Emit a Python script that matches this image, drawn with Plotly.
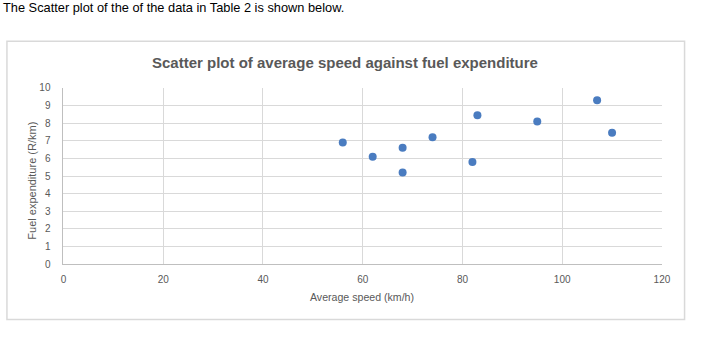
import plotly.graph_objects as go

# Data
average_speed = [56, 62, 68, 68, 74, 82, 83, 95, 107, 110]
fuel_expenditure = [6.9, 6.1, 6.6, 5.2, 7.2, 5.8, 8.45, 8.1, 9.3, 7.45]
x_ticks = [0, 20, 40, 60, 80, 100, 120]
y_ticks = [0, 1, 2, 3, 4, 5, 6, 7, 8, 9, 10]

W, H = 727, 343
NARROW = "Liberation Sans Narrow, Arial Narrow, Liberation Sans, Arial, sans-serif"
REG = "Liberation Sans, Arial, sans-serif"
GRAY = "#595959"

def px(x):
    return x / W

def py(y):
    return 1 - y / H

fig = go.Figure()
fig.add_trace(go.Scatter(
    x=average_speed, y=fuel_expenditure, mode="markers",
    marker=dict(size=8, color="#4a7cc0", line=dict(width=0)),
    hoverinfo="x+y", showlegend=False,
))

fig.update_layout(
    width=W, height=H,
    margin=dict(l=0, r=0, t=0, b=0),
    paper_bgcolor="white", plot_bgcolor="white",
    font=dict(family=NARROW, color=GRAY, size=10),
    xaxis=dict(
        domain=[px(61.5), px(670)], range=[0, 120],
        tickvals=x_ticks, ticktext=[str(v) for v in x_ticks],
        showgrid=True, gridcolor="#d9d9d9", gridwidth=1,
        zeroline=False, showline=True, linecolor="#bfbfbf", linewidth=1,
        ticks="", tickfont=dict(family=NARROW, size=10, color=GRAY),
        ticklabelstandoff=6, fixedrange=True,
    ),
    yaxis=dict(
        domain=[py(267.7), py(85.7)], range=[0, 10],
        tickvals=y_ticks, ticktext=[str(v) for v in y_ticks],
        showgrid=True, gridcolor="#d9d9d9", gridwidth=1,
        zeroline=False, showline=True, linecolor="#bfbfbf", linewidth=1,
        ticks="", tickfont=dict(family=NARROW, size=10, color=GRAY),
        ticklabelstandoff=10, fixedrange=True,
    ),
    shapes=[dict(
        type="rect", xref="paper", yref="paper",
        x0=px(4), x1=px(693), y0=py(325), y1=py(37.5),
        line=dict(color="#d9d9d9", width=1.5), fillcolor="rgba(0,0,0,0)",
        layer="below",
    )],
    annotations=[
        dict(text="The Scatter plot of the of the data in Table 2 is shown below.",
             xref="paper", yref="paper", x=px(-2), y=py(3), xanchor="left", yanchor="middle",
             showarrow=False, font=dict(family=REG, size=12.8, color="#000000")),
        dict(text="<b>Scatter plot of average speed against fuel expenditure</b>",
             xref="paper", yref="paper", x=px(348), y=py(59), xanchor="center", yanchor="middle",
             showarrow=False, font=dict(family=NARROW, size=15, color=GRAY)),
        dict(text="Average speed (km/h)",
             xref="paper", yref="paper", x=px(365), y=py(302), xanchor="center", yanchor="middle",
             showarrow=False, font=dict(family=NARROW, size=10.6, color=GRAY)),
        dict(text="Fuel expenditure (R/km)",
             xref="paper", yref="paper", x=px(30), y=py(182), xanchor="center", yanchor="middle",
             textangle=-90, showarrow=False, font=dict(family=NARROW, size=11, color=GRAY)),
    ],
)

fig.write_html("out.html")
